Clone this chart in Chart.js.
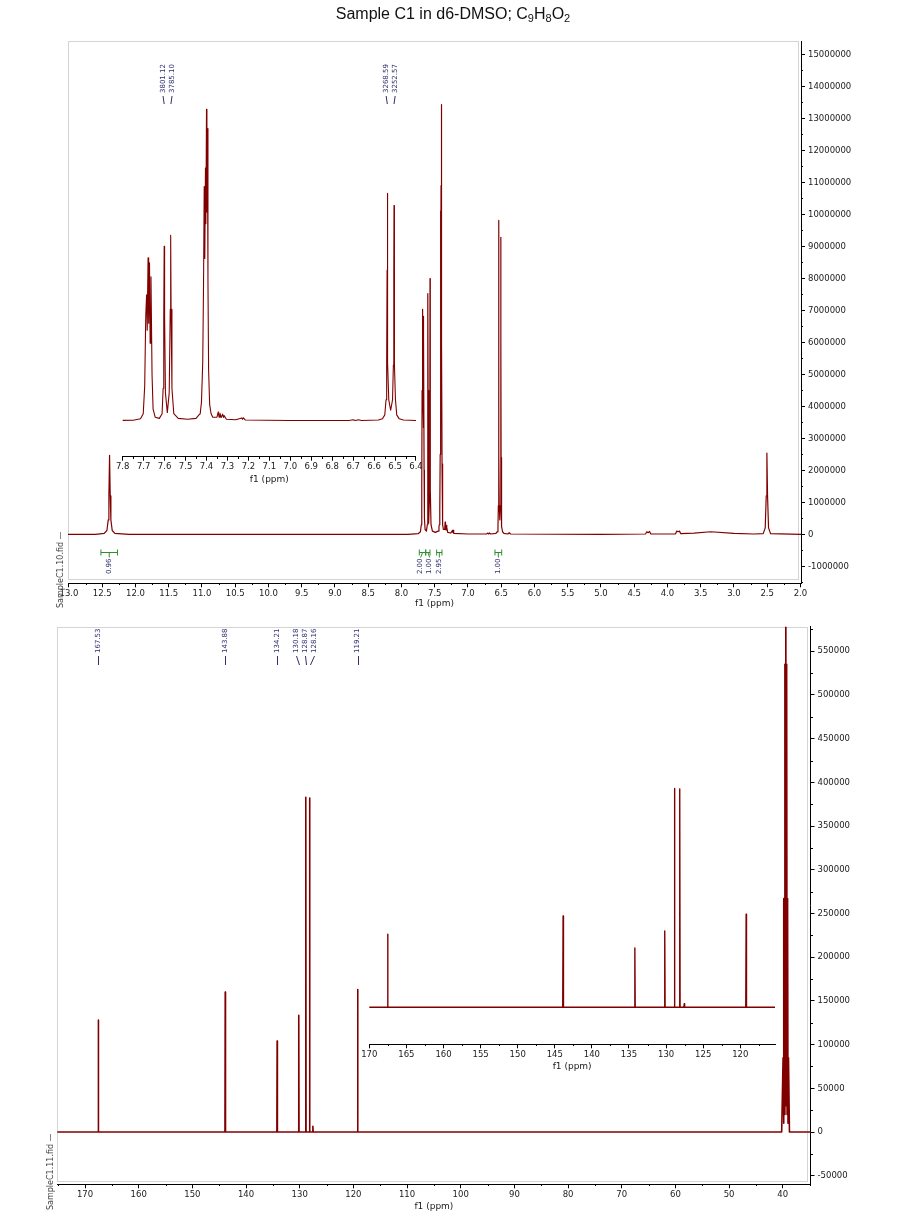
<!DOCTYPE html>
<html><head><meta charset="utf-8">
<script src="https://cdn.jsdelivr.net/npm/chart.js@4.4.1/dist/chart.umd.min.js"></script>
<style>
html,body{margin:0;padding:0;background:#fff;}
#wrap{position:relative;width:906px;height:1225px;overflow:hidden;background:#fff;}
canvas{position:absolute;left:0;}
#title{position:absolute;top:5px;left:0;width:906px;text-align:center;font:16px "Liberation Sans",Arial,sans-serif;line-height:18px;color:#111;}
#title sub{font-size:11px;vertical-align:-3px;line-height:0;}
</style></head><body>
<div id="wrap">
<canvas id="h1" width="906" height="612" style="top:0"></canvas>
<canvas id="h1i" width="906" height="612" style="top:0"></canvas>
<canvas id="c13" width="906" height="613" style="top:612px"></canvas>
<canvas id="c13i" width="906" height="613" style="top:612px"></canvas>
<div id="title">Sample C1 in d6-DMSO; C<sub>9</sub>H<sub>8</sub>O<sub>2</sub></div>
</div>
<script>
// ---------------- DATA ----------------
// 1H spectrum (ppm, intensity)
const h1Ppm = [13.02,12.60,12.47,12.43,12.41,12.40,12.39,12.38,12.37,12.35,12.31,12.10,
  7.90,7.75,7.715,7.702,7.695,7.690,7.686,7.683,7.679,7.676,7.672,7.669,7.665,7.660,7.655,7.645,
  7.625,7.612,7.607,7.604,7.602,7.600,7.596,7.587,7.578,7.573,7.571,7.569,7.565,7.556,7.535,
  7.49,7.45,7.436,7.430,7.424,7.418,7.414,7.411,7.408,7.405,7.403,7.400,7.398,7.396,7.393,7.390,7.385,7.378,7.370,
  7.350,7.344,7.340,7.336,7.330,7.323,7.319,7.316,7.305,7.26,7.232,7.228,7.224,7.215,7.00,
  6.72,6.70,6.69,6.675,6.66,6.58,6.56,6.549,6.543,6.540,6.538,6.537,6.536,6.534,6.530,6.521,
  6.512,6.508,6.506,6.505,6.504,6.502,6.498,6.492,6.48,6.46,6.40,6.38,6.36,
  5.0,4.33,4.31,4.29,4.27,4.25,3.88,3.86,3.84,3.82,3.80,3.6,3.35,3.0,2.7,
  2.56,2.53,2.515,2.505,2.495,2.48,2.45,1.98];
const h1Int = [0,0,0.03e6,0.12e6,0.45e6,1.2e6,2.47e6,1.2e6,0.45e6,0.12e6,0.03e6,0,
  0,0.02e6,0.08e6,0.3e6,1.5e6,4.5e6,5.43e6,3.9e6,7.03e6,4.2e6,6.81e6,3.34e6,6.21e6,2.0e6,0.5e6,0.15e6,
  0.1e6,0.3e6,1.4e6,4.5e6,7.52e6,4.5e6,1.2e6,0.35e6,1.2e6,4.8e6,7.99e6,4.8e6,1.4e6,0.3e6,0.1e6,
  0.06e6,0.1e6,0.25e6,0.3e6,0.8e6,2.5e6,6.0e6,10.1e6,7.0e6,10.9e6,8.5e6,13.43e6,9.0e6,12.6e6,6.0e6,2.2e6,0.7e6,0.3e6,0.15e6,
  0.15e6,0.38e6,0.15e6,0.33e6,0.14e6,0.28e6,0.14e6,0.22e6,0.06e6,0.04e6,0.12e6,0.06e6,0.12e6,0.03e6,0.01e6,
  0.01e6,0.04e6,0.01e6,0.04e6,0.01e6,0.03e6,0.08e6,0.25e6,0.9e6,2.5e6,6.5e6,9.81e6,6.5e6,2.5e6,0.9e6,0.45e6,
  0.9e6,2.4e6,6.2e6,9.28e6,6.2e6,2.4e6,0.9e6,0.25e6,0.08e6,0.03e6,0.01e6,0.05e6,0.01e6,
  0,0.01e6,0.08e6,0.05e6,0.09e6,0.01e6,0.01e6,0.1e6,0.08e6,0.1e6,0.02e6,0.04e6,0.08e6,0.03e6,0.01e6,
  0.02e6,0.2e6,1.2e6,2.54e6,1.2e6,0.2e6,0.02e6,0];

// 13C spectrum (ppm, intensity)
const c13Ppm = [175.3,167.58,167.53,167.48,143.93,143.88,143.83,134.26,134.21,134.16,
  130.23,130.18,130.13,128.92,128.87,128.82,128.21,128.16,128.11,127.60,127.55,127.50,
  119.26,119.21,119.16,40.2,39.94,39.86,39.77,39.69,39.60,39.52,39.43,39.35,39.27,39.19,39.10,39.02,38.93,38.75,34.7];
const c13Int = [0,0,128000,0,0,160000,0,0,104000,0,
  0,133500,0,0,383000,0,0,382000,0,0,6500,0,
  0,163000,0,0,85000,10000,267000,20000,535000,30000,640000,30000,535000,20000,267000,10000,85000,0,0];

// tick labels
const h1XTicks = [13.0,12.5,12.0,11.5,11.0,10.5,10.0,9.5,9.0,8.5,8.0,7.5,7.0,6.5,6.0,5.5,5.0,4.5,4.0,3.5,3.0,2.5,2.0];
const h1InsetXTicks = [7.8,7.7,7.6,7.5,7.4,7.3,7.2,7.1,7.0,6.9,6.8,6.7,6.6,6.5,6.4];
const h1YTicks = [15000000,14000000,13000000,12000000,11000000,10000000,9000000,8000000,7000000,6000000,5000000,4000000,3000000,2000000,1000000,0,-1000000];
const c13XTicks = [170,160,150,140,130,120,110,100,90,80,70,60,50,40];
const c13InsetXTicks = [170,165,160,155,150,145,140,135,130,125,120];
const c13YTicks = [550000,500000,450000,400000,350000,300000,250000,200000,150000,100000,50000,0,-50000];

// annotations
const h1PeakPpm = [7.602,7.570,6.537,6.505];
const h1PeakText = ['3801.12','3785.10','3268.59','3252.57'];
const c13PeakPpm = [167.53,143.88,134.21,130.18,128.87,128.16,119.21];
const c13PeakText = ['167.53','143.88','134.21','130.18','128.87','128.16','119.21'];
const intStart = [12.52,7.732,7.636,7.471,6.594];
const intEnd = [12.27,7.636,7.571,7.391,6.493];
const intValues = ['0.96','2.00','1.00','2.95','1.00'];

// ---------------- HELPERS ----------------
const FONT = '"DejaVu Sans", Verdana, sans-serif';
const RED = '#800000';
const NAVY = '#2e2e70';
const GREEN = '#2f8f2f';
Chart.defaults.font.family = FONT;

function pts(xs, ys) { return xs.map((x, i) => ({ x: x, y: ys[i] })); }

function vtext(ctx, t, x, y, align) {
  ctx.save(); ctx.translate(x, y); ctx.rotate(-Math.PI / 2);
  ctx.textAlign = align; ctx.textBaseline = 'middle'; ctx.fillText(t, 0, 0); ctx.restore();
}

function spread(px, gap) {
  let groups = px.map(p => ({ m: [p], c: p }));
  let changed = true;
  while (changed) {
    changed = false;
    for (let i = 0; i < groups.length - 1; i++) {
      const a = groups[i], b = groups[i + 1];
      const aEnd = a.c + (a.m.length - 1) * gap / 2;
      const bStart = b.c - (b.m.length - 1) * gap / 2;
      if (bStart - aEnd < gap - 1e-6) {
        const m = a.m.concat(b.m);
        groups.splice(i, 2, { m: m, c: m.reduce((s, v) => s + v, 0) / m.length });
        changed = true; break;
      }
    }
  }
  const out = [];
  groups.forEach(g => { const n = g.m.length; g.m.forEach((_, j) => out.push(g.c + (j - (n - 1) / 2) * gap)); });
  return out;
}

function drawMinor(ctx, s, step, major, len) {
  const lo = Math.min(s.min, s.max), hi = Math.max(s.min, s.max);
  ctx.save(); ctx.strokeStyle = '#000'; ctx.lineWidth = 1; ctx.beginPath();
  for (let k = Math.ceil(lo / step - 1e-9); k * step <= hi + 1e-9; k++) {
    const v = k * step, r = v / major;
    if (Math.abs(r - Math.round(r)) < 1e-6) continue;
    const p = Math.round(s.getPixelForValue(v)) + 0.5;
    if (s.isHorizontal()) { const y0 = Math.round(s.top); ctx.moveTo(p, y0); ctx.lineTo(p, y0 + len); }
    else { const x0 = Math.round(s.left); ctx.moveTo(x0, p); ctx.lineTo(x0 + len, p); }
  }
  ctx.stroke(); ctx.restore();
}

function framePlugin(r, b) {
  return { id: 'frame', beforeDatasetsDraw(chart) {
    const a = chart.chartArea, ctx = chart.ctx;
    ctx.save(); ctx.strokeStyle = '#d4d4d4'; ctx.lineWidth = 1;
    ctx.strokeRect(Math.round(a.left) + 0.5, Math.round(a.top) + 0.5,
      Math.round(a.right - a.left - r), Math.round(a.bottom - a.top - b));
    ctx.restore();
  }};
}
function minorPlugin(list) {
  return { id: 'minor', afterDraw(chart) {
    list.forEach(m => drawMinor(chart.ctx, chart.scales[m.axis], m.step, m.major, m.len));
  }};
}
function sidePlugin(text, x, yBottom) {
  return { id: 'side', afterDraw(chart) {
    const ctx = chart.ctx; ctx.save(); ctx.fillStyle = '#444'; ctx.font = '8px ' + FONT;
    vtext(ctx, text, x, yBottom, 'left'); ctx.restore();
  }};
}

function xScaleOpts(min, max, ticksArr, height, titlePad, fmt) {
  return {
    type: 'linear', reverse: true, min: min, max: max, position: 'bottom',
    afterBuildTicks: s => { s.ticks = ticksArr.map(v => ({ value: v })); },
    afterFit: s => { s.height = height; },
    ticks: { autoSkip: false, maxRotation: 0, minRotation: 0, padding: 1, color: '#1a1a1a',
      font: { family: FONT, size: 8.5 }, callback: fmt },
    grid: { drawOnChartArea: false, drawTicks: true, tickLength: 4, color: '#000', tickWidth: 1 },
    border: { display: true, color: '#000', width: 1 },
    title: { display: true, text: 'f1 (ppm)', color: '#1a1a1a', font: { family: FONT, size: 9 },
      padding: { top: 0, bottom: titlePad } }
  };
}
function yScaleOpts(min, max, ticksArr, width) {
  return {
    type: 'linear', position: 'right', min: min, max: max,
    afterBuildTicks: s => { s.ticks = ticksArr.map(v => ({ value: v })); },
    afterFit: s => { s.width = width; },
    ticks: { padding: 3, color: '#1a1a1a', font: { family: FONT, size: 8.5 }, callback: v => String(Math.round(v)) },
    grid: { drawOnChartArea: false, drawTicks: true, tickLength: 4, color: '#000', tickWidth: 1 },
    border: { display: true, color: '#000', width: 1 }
  };
}
function lineDataset(xs, ys, w) {
  return { data: pts(xs, ys), borderColor: RED, borderWidth: w, pointRadius: 0, tension: 0,
    fill: false, borderJoinStyle: 'round' };
}
const baseOpts = { responsive: false, animation: false, devicePixelRatio: 1, events: [] };
const noPlugins = { legend: { display: false }, tooltip: { enabled: false }, title: { display: false } };
const f1 = v => Number(v).toFixed(1);
const f0 = v => String(Math.round(v));

// ---------------- 1H main ----------------
new Chart(document.getElementById('h1'), {
  type: 'line',
  data: { datasets: [lineDataset(h1Ppm, h1Int, 1.2)] },
  options: Object.assign({}, baseOpts, {
    layout: { padding: { left: 68, top: 41, right: 0, bottom: 0 } },
    plugins: noPlugins,
    scales: { x: xScaleOpts(1.992, 13.015, h1XTicks, 28.7, 2.6, f1),
              y: yScaleOpts(-1.531e6, 15.416e6, h1YTicks, 105) }
  }),
  plugins: [framePlugin(3, 4),
    minorPlugin([{ axis: 'x', step: 0.25, major: 0.5, len: 2 }, { axis: 'y', step: 5e5, major: 1e6, len: 2 }]),
    sidePlugin('SampleC1.10.fid \u2014', 61, 608),
    { id: 'integrals', afterDraw(chart) {
      const s = chart.scales.x, ctx = chart.ctx;
      const y = Math.round(chart.scales.y.getPixelForValue(-0.55e6)) + 0.5;
      const x1 = intStart.map(v => s.getPixelForValue(v)), x2 = intEnd.map(v => s.getPixelForValue(v));
      const cx = x1.map((a, i) => (a + x2[i]) / 2);
      const lx = spread(cx, 9);
      ctx.save(); ctx.strokeStyle = GREEN; ctx.lineWidth = 1;
      ctx.beginPath();
      x1.forEach((a, i) => {
        ctx.moveTo(a, y); ctx.lineTo(x2[i], y);
        ctx.moveTo(a, y - 3); ctx.lineTo(a, y + 3);
        ctx.moveTo(x2[i], y - 3); ctx.lineTo(x2[i], y + 3);
        ctx.moveTo(cx[i], y); ctx.lineTo(lx[i], y + 5);
      });
      ctx.stroke();
      ctx.fillStyle = NAVY; ctx.font = '7px ' + FONT;
      lx.forEach((p, i) => vtext(ctx, intValues[i], p, y + 6, 'right'));
      ctx.restore();
    }}]
});

// ---------------- 1H inset ----------------
new Chart(document.getElementById('h1i'), {
  type: 'line',
  data: { datasets: [lineDataset(h1Ppm, h1Int, 1.1)] },
  options: Object.assign({}, baseOpts, {
    layout: { padding: { left: 122.7, top: 100, right: 490, bottom: 0 } },
    plugins: noPlugins,
    scales: { x: xScaleOpts(6.4, 7.8, h1InsetXTicks, 155.3, 126.6, f1),
              y: { type: 'linear', display: false, min: -1.553e6, max: 13.83e6 } }
  }),
  plugins: [minorPlugin([{ axis: 'x', step: 0.05, major: 0.1, len: 2 }]),
    { id: 'plabels', afterDraw(chart) {
      const s = chart.scales.x, ctx = chart.ctx, top = chart.chartArea.top;
      const px = h1PeakPpm.map(v => s.getPixelForValue(v));
      const lx = spread(px, 9);
      ctx.save(); ctx.fillStyle = NAVY; ctx.strokeStyle = NAVY; ctx.lineWidth = 1; ctx.font = '7px ' + FONT;
      px.forEach((p, i) => {
        vtext(ctx, h1PeakText[i], lx[i], top - 7, 'left');
        ctx.beginPath(); ctx.moveTo(lx[i], top - 4); ctx.lineTo(p, top + 4); ctx.stroke();
      });
      ctx.restore();
    }}]
});

// ---------------- 13C main ----------------
new Chart(document.getElementById('c13'), {
  type: 'line',
  data: { datasets: [lineDataset(c13Ppm, c13Int, 1.6)] },
  options: Object.assign({}, baseOpts, {
    layout: { padding: { left: 57.3, top: 14.7, right: 0, bottom: 0 } },
    plugins: noPlugins,
    scales: { x: xScaleOpts(34.83, 175.17, c13XTicks, 40.7, 12.6, f0),
              y: yScaleOpts(-59800, 578100, c13YTicks, 95.5) }
  }),
  plugins: [framePlugin(3.5, 3.3),
    minorPlugin([{ axis: 'x', step: 5, major: 10, len: 2 }, { axis: 'y', step: 25000, major: 50000, len: 2 }]),
    sidePlugin('SampleC1.11.fid \u2014', 51, 598),
    { id: 'clabels', afterDraw(chart) {
      const s = chart.scales.x, ctx = chart.ctx, top = chart.chartArea.top;
      const px = c13PeakPpm.map(v => s.getPixelForValue(v));
      const lx = spread(px, 9);
      ctx.save(); ctx.fillStyle = NAVY; ctx.strokeStyle = NAVY; ctx.lineWidth = 1; ctx.font = '7px ' + FONT;
      px.forEach((p, i) => {
        vtext(ctx, c13PeakText[i], lx[i], top + 26.3, 'left');
        ctx.beginPath(); ctx.moveTo(Math.round(lx[i]) + 0.5, top + 29.3); ctx.lineTo(Math.round(p) + 0.5, top + 38.3); ctx.stroke();
      });
      ctx.restore();
    }}]
});

// ---------------- 13C inset ----------------
new Chart(document.getElementById('c13i'), {
  type: 'line',
  data: { datasets: [lineDataset(c13Ppm, c13Int, 1.4)] },
  options: Object.assign({}, baseOpts, {
    layout: { padding: { left: 369.3, top: 88, right: 131, bottom: 0 } },
    plugins: noPlugins,
    scales: { x: xScaleOpts(115.32, 170, c13InsetXTicks, 180.7, 152.6, f0),
              y: { type: 'linear', display: false, min: -64750, max: 537800 } }
  }),
  plugins: [minorPlugin([{ axis: 'x', step: 2.5, major: 5, len: 2 }])]
});
</script>
</body></html>
